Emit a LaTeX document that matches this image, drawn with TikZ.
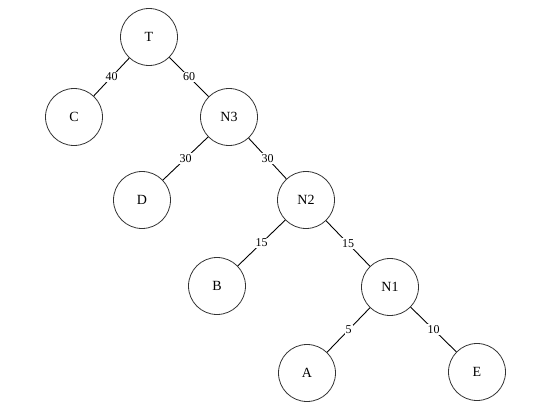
\documentclass[tikz,border=0pt]{standalone}
\usepackage{fontspec}
\setmainfont{Liberation Serif}
\begin{document}
\begin{tikzpicture}[x=1pt,y=-1pt,
  tn/.style={circle,draw=black!80,line width=0.8pt,minimum size=57pt,inner sep=0pt,font=\fontsize{14}{14}\selectfont},
  ed/.style={draw=black,line width=0.9pt},
  wl/.style={fill=white,inner sep=1pt,font=\fontsize{12}{12}\selectfont}]
\useasboundingbox (0,0) rectangle (554,420);
\node[tn] (T) at (149,37) {T};
\node[tn] (C) at (74,117) {C};
\node[tn] (N3) at (229,117) {N3};
\node[tn] (D) at (142,200) {D};
\node[tn] (N2) at (306,200) {N2};
\node[tn] (B) at (217,286) {B};
\node[tn] (N1) at (390,287) {N1};
\node[tn] (A) at (307,373) {A};
\node[tn] (E) at (477,372) {E};
\draw[ed] (T) -- node[wl] {40} (C);
\draw[ed] (T) -- node[wl] {60} (N3);
\draw[ed] (N3) -- node[wl] {30} (D);
\draw[ed] (N3) -- node[wl] {30} (N2);
\draw[ed] (N2) -- node[wl] {15} (B);
\draw[ed] (N2) -- node[wl] {15} (N1);
\draw[ed] (N1) -- node[wl] {5} (A);
\draw[ed] (N1) -- node[wl] {10} (E);
\end{tikzpicture}
\end{document}
